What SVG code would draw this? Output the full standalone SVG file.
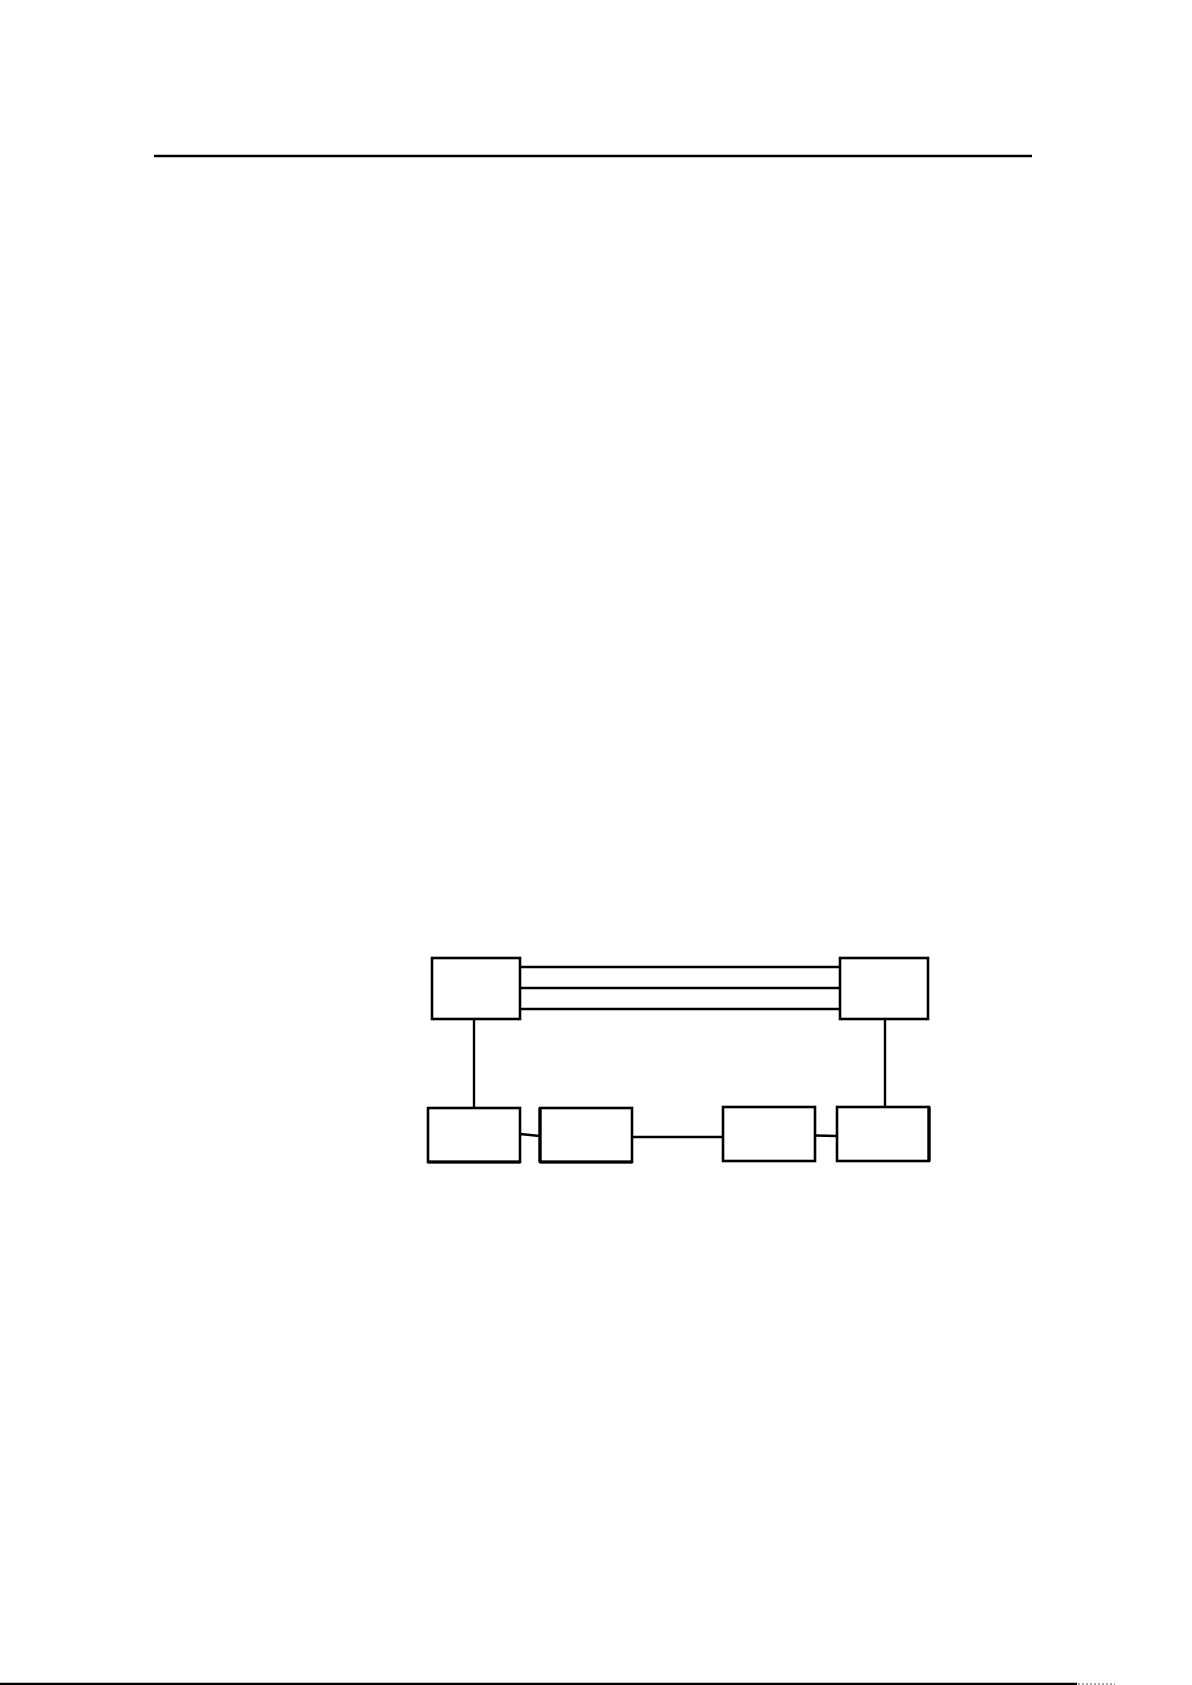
<svg xmlns="http://www.w3.org/2000/svg" width="1192" height="1685" viewBox="0 0 1192 1685">
<style>
.box{fill:#fff;stroke:#000;stroke-width:2.6}
.edge{stroke:#000;stroke-width:3.2}
.ln{stroke:#000;stroke-width:2.4;fill:none}
.rule{stroke:#000;stroke-width:2.4}
</style>
<rect width="1192" height="1685" fill="#fff"/>
<line class="rule" x1="154" y1="156" x2="1032" y2="156"/>
<line class="rule" x1="0" y1="1684" x2="1077" y2="1684"/>
<line x1="1078" y1="1684" x2="1115" y2="1684" stroke="#888" stroke-width="1.5" stroke-dasharray="2 2"/>
<g id="connectors">
<line class="ln" x1="520" y1="967" x2="840" y2="967"/>
<line class="ln" x1="520" y1="988" x2="840" y2="988"/>
<line class="ln" x1="520" y1="1009" x2="840" y2="1009"/>
<line class="ln" x1="474" y1="1019" x2="474" y2="1108"/>
<line class="ln" x1="885" y1="1019" x2="885" y2="1108"/>
<line class="ln" x1="520" y1="1134" x2="540" y2="1136"/>
<line class="ln" x1="632" y1="1137" x2="723" y2="1137"/>
<line class="ln" x1="815" y1="1135.5" x2="837" y2="1136"/>
</g>
<g id="node-top-left"><rect class="box" x="432" y="958" width="88" height="61"/></g>
<g id="node-top-right"><rect class="box" x="840" y="958" width="88" height="61"/></g>
<g id="node-bottom-1"><rect class="box" x="428" y="1108" width="92" height="54"/><line class="edge" x1="428" y1="1162" x2="520" y2="1162"/></g>
<g id="node-bottom-2"><rect class="box" x="540" y="1108" width="92" height="54"/><line class="edge" x1="540" y1="1162" x2="632" y2="1162"/><line class="edge" x1="540" y1="1108" x2="540" y2="1162"/></g>
<g id="node-bottom-3"><rect class="box" x="723" y="1107" width="92" height="54"/></g>
<g id="node-bottom-4"><rect class="box" x="837" y="1107" width="92" height="54"/><line class="edge" x1="929" y1="1107" x2="929" y2="1161"/></g>
</svg>
